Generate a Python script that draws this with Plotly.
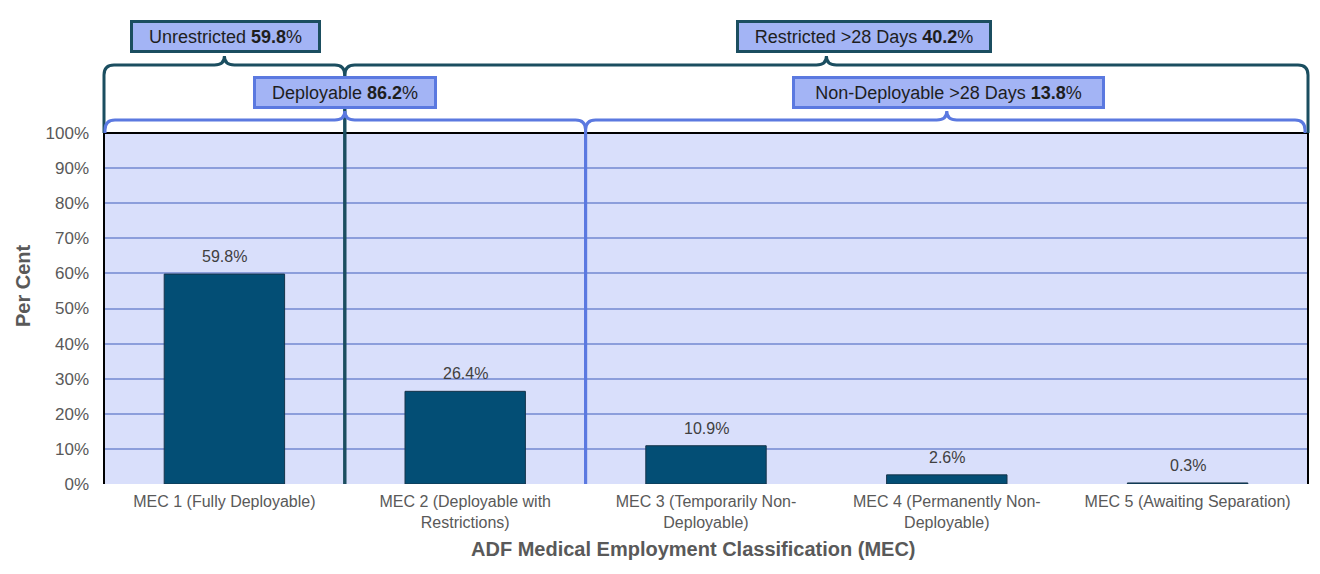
import plotly.graph_objects as go

# ---------------- data ----------------
categories = [
    "MEC 1 (Fully Deployable)",
    "MEC 2 (Deployable with<br>Restrictions)",
    "MEC 3 (Temporarily Non-<br>Deployable)",
    "MEC 4 (Permanently Non-<br>Deployable)",
    "MEC 5 (Awaiting Separation)",
]
values = [59.8, 26.4, 10.9, 2.6, 0.3]
y_ticks = [0, 10, 20, 30, 40, 50, 60, 70, 80, 90, 100]

group_labels = ["Unrestricted", "Restricted >28 Days", "Deployable", "Non-Deployable >28 Days"]
group_values = [59.8, 40.2, 86.2, 13.8]
group_spans = [(0, 1), (1, 5), (0, 2), (2, 5)]      # category boundaries covered
group_levels = [0, 0, 1, 1]                          # 0 = upper bracket, 1 = lower bracket

# ---------------- layout constants (pixels) ----------------
FIG_W, FIG_H = 1320, 574
L, R, T, B = 104, 1308, 133, 484
W, H = R - L, B - T
N = len(categories)

FONT = "Liberation Sans, Arial, sans-serif"
DARK = "#1B4E60"
BLUE = "#5B79E0"
BOX_FILL = "#A3B4F5"
PLOT_BG = "#D9DFFB"
GRID = "#8C9EDB"
BAR = "#034E75"

def fx(px):
    return (px - L) / W

def fy(py):
    return (B - py) / H

def bx(b):
    return L + b * W / N

level_y = [65, 120]
level_color = [DARK, BLUE]
box_cy = [36.5, 92.5]
box_w = [191, 256, 184, 313]
box_h = 33
box_dx = [1, 38, 0, 2]
r = 10
cusp_h = 9

fig = go.Figure()
fig.add_trace(go.Bar(
    x=categories, y=values,
    marker=dict(color=BAR, line=dict(color="#16344A", width=1)),
    width=0.5, hoverinfo="skip",
))

shapes = []
# plot border (left, top, right)
shapes.append(dict(type="line", xref="paper", yref="paper", x0=0, x1=0, y0=0, y1=1,
                   line=dict(color="black", width=2), layer="above"))
shapes.append(dict(type="line", xref="paper", yref="paper", x0=0, x1=1, y0=1, y1=1,
                   line=dict(color="black", width=2), layer="above"))
shapes.append(dict(type="line", xref="paper", yref="paper", x0=1, x1=1, y0=0, y1=1,
                   line=dict(color="black", width=2), layer="above"))

def P(px, py):
    return f"{fx(px):.5f},{fy(py):.5f}"

annotations = []
for lvl_draw in (0, 1):
    for i, (a, b) in enumerate(group_spans):
        lvl = group_levels[i]
        if lvl != lvl_draw:
            continue
        y = level_y[lvl]
        xa, xb = bx(a), bx(b)
        if lvl == 1 and b == N:
            xb -= 3
        if lvl == 1 and a == 0:
            xa += 1
        xc = (bx(a) + bx(b)) / 2
        ya_end = T if a == 0 else B
        yb_end = T if b == N else B
        path = (f"M {P(xa, ya_end)} L {P(xa, y + r)} Q {P(xa, y)} {P(xa + r, y)} "
                f"L {P(xc - r, y)} Q {P(xc, y)} {P(xc, y - cusp_h)} "
                f"Q {P(xc, y)} {P(xc + r, y)} L {P(xb - r, y)} "
                f"Q {P(xb, y)} {P(xb, y + r)} L {P(xb, yb_end)}")
        shapes.append(dict(type="path", xref="paper", yref="paper", path=path,
                           line=dict(color=level_color[lvl], width=3), layer="above"))
        bw = 3
        annotations.append(dict(
            xref="paper", yref="paper", x=fx(xc + box_dx[i]), y=fy(box_cy[lvl]),
            xanchor="center", yanchor="middle", showarrow=False,
            text=f"{group_labels[i]} <b>{group_values[i]}</b>%",
            font=dict(family=FONT, size=18, color="#1E1E1E"),
            bgcolor=BOX_FILL, bordercolor=level_color[lvl], borderwidth=bw, borderpad=0,
            width=box_w[i] - 2 * bw, height=box_h - 2 * bw, align="center", valign="middle",
        ))

# bar value labels
for c, v in zip(categories, values):
    annotations.append(dict(
        x=c, y=v, xref="x", yref="y", text=f"{v}%", showarrow=False,
        yanchor="bottom", yshift=7,
        font=dict(family=FONT, size=16, color="#404040"),
    ))

# axis titles
annotations.append(dict(
    xref="paper", yref="paper", x=fx(23), y=fy(286), text="<b>Per Cent</b>",
    textangle=-90, showarrow=False, xanchor="center", yanchor="middle",
    font=dict(family=FONT, size=20, color="#595959"),
))
annotations.append(dict(
    xref="paper", yref="paper", x=fx(693), y=fy(549),
    text="<b>ADF Medical Employment Classification (MEC)</b>",
    showarrow=False, xanchor="center", yanchor="middle",
    font=dict(family=FONT, size=20, color="#595959"),
))

fig.update_layout(
    width=FIG_W, height=FIG_H,
    margin=dict(l=L, r=FIG_W - R, t=T, b=FIG_H - B, pad=0),
    paper_bgcolor="white", plot_bgcolor=PLOT_BG,
    showlegend=False, bargap=0.5,
    shapes=shapes, annotations=annotations,
    font=dict(family=FONT, color="#595959"),
    xaxis=dict(
        range=[-0.5, N - 0.5], showgrid=False, zeroline=False, showline=False,
        ticks="", tickfont=dict(family=FONT, size=16, color="#595959"),
        ticklabelstandoff=6, fixedrange=True,
    ),
    yaxis=dict(
        range=[0, 100], tickvals=y_ticks, ticktext=[f"{t}%" for t in y_ticks],
        showgrid=True, gridcolor=GRID, gridwidth=2, zeroline=False, showline=False,
        ticks="", tickfont=dict(family=FONT, size=17, color="#595959"),
        ticklabelstandoff=14, fixedrange=True,
    ),
)

fig.write_html("out.html")
